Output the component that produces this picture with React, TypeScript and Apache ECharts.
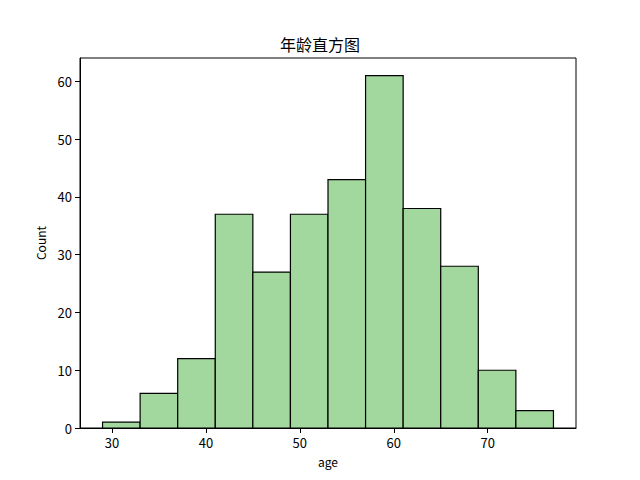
import { useEffect, useRef } from 'react';
import * as echarts from 'echarts';

const binEdges = [29, 33, 37, 41, 45, 49, 53, 57, 61, 65, 69, 73, 77];
const counts = [1, 6, 12, 37, 27, 37, 43, 61, 38, 28, 10, 3];
const xTicks = [30, 40, 50, 60, 70];
const yTicks = [0, 10, 20, 30, 40, 50, 60];

const FONT = '"Noto Sans CJK SC", "DejaVu Sans", sans-serif';

function App() {
  const chartRef = useRef<HTMLDivElement>(null);

  useEffect(() => {
    document.body.style.margin = '0';
    const myChart = echarts.init(chartRef.current, null, { renderer: 'svg' });

    const lo = binEdges[0];
    const hi = binEdges[binEdges.length - 1];
    const pad = (hi - lo) * 0.05;
    const yMax = Math.max(...counts) * 1.05;

    const data = counts.map((c, i) => [binEdges[i], binEdges[i + 1], c]);

    const option = {
      animation: false,
      title: {
        text: '年龄直方图',
        left: 'center',
        top: 31,
        textStyle: { fontFamily: FONT, fontSize: 16, fontWeight: 'normal', color: '#000' },
      },
      grid: {
        left: 80,
        right: 64,
        top: 58,
        bottom: 52,
        show: true,
        borderColor: '#000',
        borderWidth: 1,
        backgroundColor: 'transparent',
      },
      xAxis: {
        type: 'value',
        min: lo - pad,
        max: hi + pad,
        name: 'age',
        nameLocation: 'middle',
        nameGap: 27,
        nameTextStyle: { fontFamily: FONT, fontSize: 12, color: '#000' },
        axisLine: { show: true, onZero: false, lineStyle: { color: '#000' } },
        axisTick: { show: true, length: 5, customValues: xTicks, lineStyle: { color: '#000' } },
        axisLabel: { customValues: xTicks, margin: 8, fontFamily: FONT, fontSize: 13, color: '#000' },
        splitLine: { show: false },
      },
      yAxis: {
        type: 'value',
        min: 0,
        max: yMax,
        name: 'Count',
        nameLocation: 'middle',
        nameGap: 32,
        nameTextStyle: { fontFamily: FONT, fontSize: 12, color: '#000' },
        axisLine: { show: true, lineStyle: { color: '#000' } },
        axisTick: { show: true, length: 5, customValues: yTicks, lineStyle: { color: '#000' } },
        axisLabel: { customValues: yTicks, margin: 8, fontFamily: FONT, fontSize: 13, color: '#000' },
        splitLine: { show: false },
      },
      series: [
        {
          type: 'custom',
          data: data,
          encode: { x: [0, 1], y: 2 },
          renderItem: (params: any, api: any) => {
            const p0 = api.coord([api.value(0), api.value(2)]);
            const p1 = api.coord([api.value(1), 0]);
            return {
              type: 'rect',
              shape: { x: p0[0], y: p0[1], width: p1[0] - p0[0], height: p1[1] - p0[1] },
              style: { fill: '#a2d89e', stroke: '#000', lineWidth: 1.2 },
            };
          },
        },
      ],
    };

    myChart.setOption(option);

    return () => {
      myChart.dispose();
    };
  }, []);

  return <div ref={chartRef} style={{ width: '640px', height: '480px' }}></div>;
}

export default App;
